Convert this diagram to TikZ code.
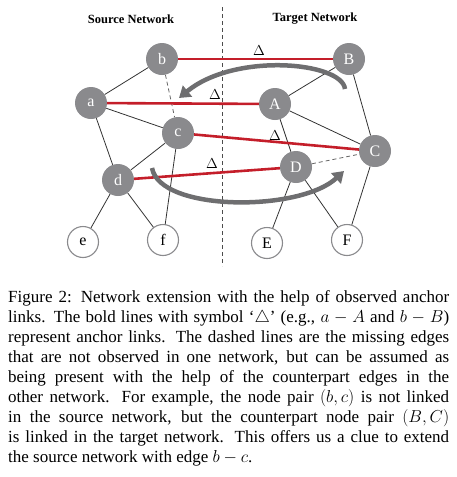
\documentclass[tikz,border=0pt]{standalone}
\usepackage{fontspec}
\setmainfont{Liberation Serif}
\usetikzlibrary{arrows.meta}
\definecolor{ngray}{HTML}{8A8A8D}
\definecolor{anchorred}{HTML}{C41E2A}
\definecolor{arrgray}{HTML}{6E6E70}
\newcommand{\capline}[1]{\makebox[441pt][s]{#1}}
\begin{document}
\begin{tikzpicture}[x=1pt,y=-1pt,
  gnode/.style={circle,fill=ngray,text=white,minimum size=32pt,inner sep=0pt,font=\fontsize{16}{16}\selectfont},
  wnode/.style={circle,fill=white,draw=ngray,line width=1.1pt,minimum size=31pt,inner sep=0pt,font=\fontsize{16}{16}\selectfont},
  edge/.style={draw=black!80,line width=0.8pt},
  missing/.style={draw=black!60,line width=0.8pt,dash pattern=on 4pt off 3pt},
  anchorlink/.style={draw=anchorred,line width=2.6pt},
  delta/.style={font=\fontsize{14}{14}\selectfont,inner sep=0pt},
  title/.style={font=\fontsize{12.5}{12.5}\selectfont\bfseries},
  bigarrow/.style={draw=arrgray,line width=4.5pt,-{Triangle[length=11pt,width=14pt]}}
]
\useasboundingbox (0,0) rectangle (456,477);
% titles and divider
\node[title] (st) at (131,19) {Source Network};
\node[title] (tt) at (315,19) {Target Network};
\coordinate (dtop) at (222,7);
\coordinate (dbot) at (222,266);
\draw[black!70,line width=0.8pt,dash pattern=on 4pt off 3pt] (dtop) -- (dbot);
% nodes
\node[gnode] (b) at (162,59) {b};
\node[gnode] (a) at (91,103) {a};
\node[gnode] (c) at (178,133) {c};
\node[gnode] (d) at (118,180) {d};
\node[wnode] (e) at (83,242) {e};
\node[wnode] (f) at (163,240) {f};
\node[gnode] (B) at (349,59) {B};
\node[gnode] (A) at (275,104) {A};
\node[gnode] (C) at (375,151) {C};
\node[gnode] (D) at (296,167) {D};
\node[wnode] (E) at (267,243) {E};
\node[wnode] (F) at (347,240) {F};
% source edges
\draw[edge] (b) -- (a);
\draw[edge] (a) -- (c);
\draw[edge] (a) -- (d);
\draw[edge] (c) -- (d);
\draw[edge] (c) -- (f);
\draw[edge] (d) -- (e);
\draw[edge] (d) -- (f);
\draw[missing] (b) -- (c);
% target edges
\draw[edge] (B) -- (A);
\draw[edge] (B) -- (C);
\draw[edge] (A) -- (C);
\draw[edge] (A) -- (D);
\draw[edge] (D) -- (E);
\draw[edge] (D) -- (F);
\draw[edge] (C) -- (F);
\draw[missing] (D) -- (C);
% anchor links
\draw[anchorlink] (b) -- (B);
\draw[anchorlink] (a) -- (A);
\draw[anchorlink] (c) -- (C);
\draw[anchorlink] (d) -- (D);
\node[delta] (d1) at (259,51) {$\Delta$};
\node[delta] (d2) at (215,95) {$\Delta$};
\node[delta] (d3) at (275,136) {$\Delta$};
\node[delta] (d4) at (212,164) {$\Delta$};
% big arrows
\coordinate (a1s) at (345,89);
\coordinate (a1e) at (179,98);
\draw[bigarrow] (a1s) .. controls (342,62) and (235,52) .. (a1e);
\coordinate (a2s) at (152,168);
\coordinate (a2e) at (344,171);
\draw[bigarrow] (a2s) .. controls (160,212) and (300,212) .. (a2e);
% caption
\node[anchor=north west,align=left,inner sep=0pt,
  font=\fontsize{17}{20}\selectfont] (cap) at (8,290)
{\capline{Figure 2: Network extension with the help of observed anchor}\\
\capline{links. The bold lines with symbol `$\triangle$' (e.g., $a-A$ and $b-B$)}\\
\capline{represent anchor links. The dashed lines are the missing edges}\\
\capline{that are not observed in one network, but can be assumed as}\\
\capline{being present with the help of the counterpart edges in the}\\
\capline{other network. For example, the node pair $(b,c)$ is not linked}\\
\capline{in the source network, but the counterpart node pair $(B,C)$}\\
\capline{is linked in the target network. This offers us a clue to extend}\\
the source network with edge $b-c$.};
\end{tikzpicture}
\end{document}
